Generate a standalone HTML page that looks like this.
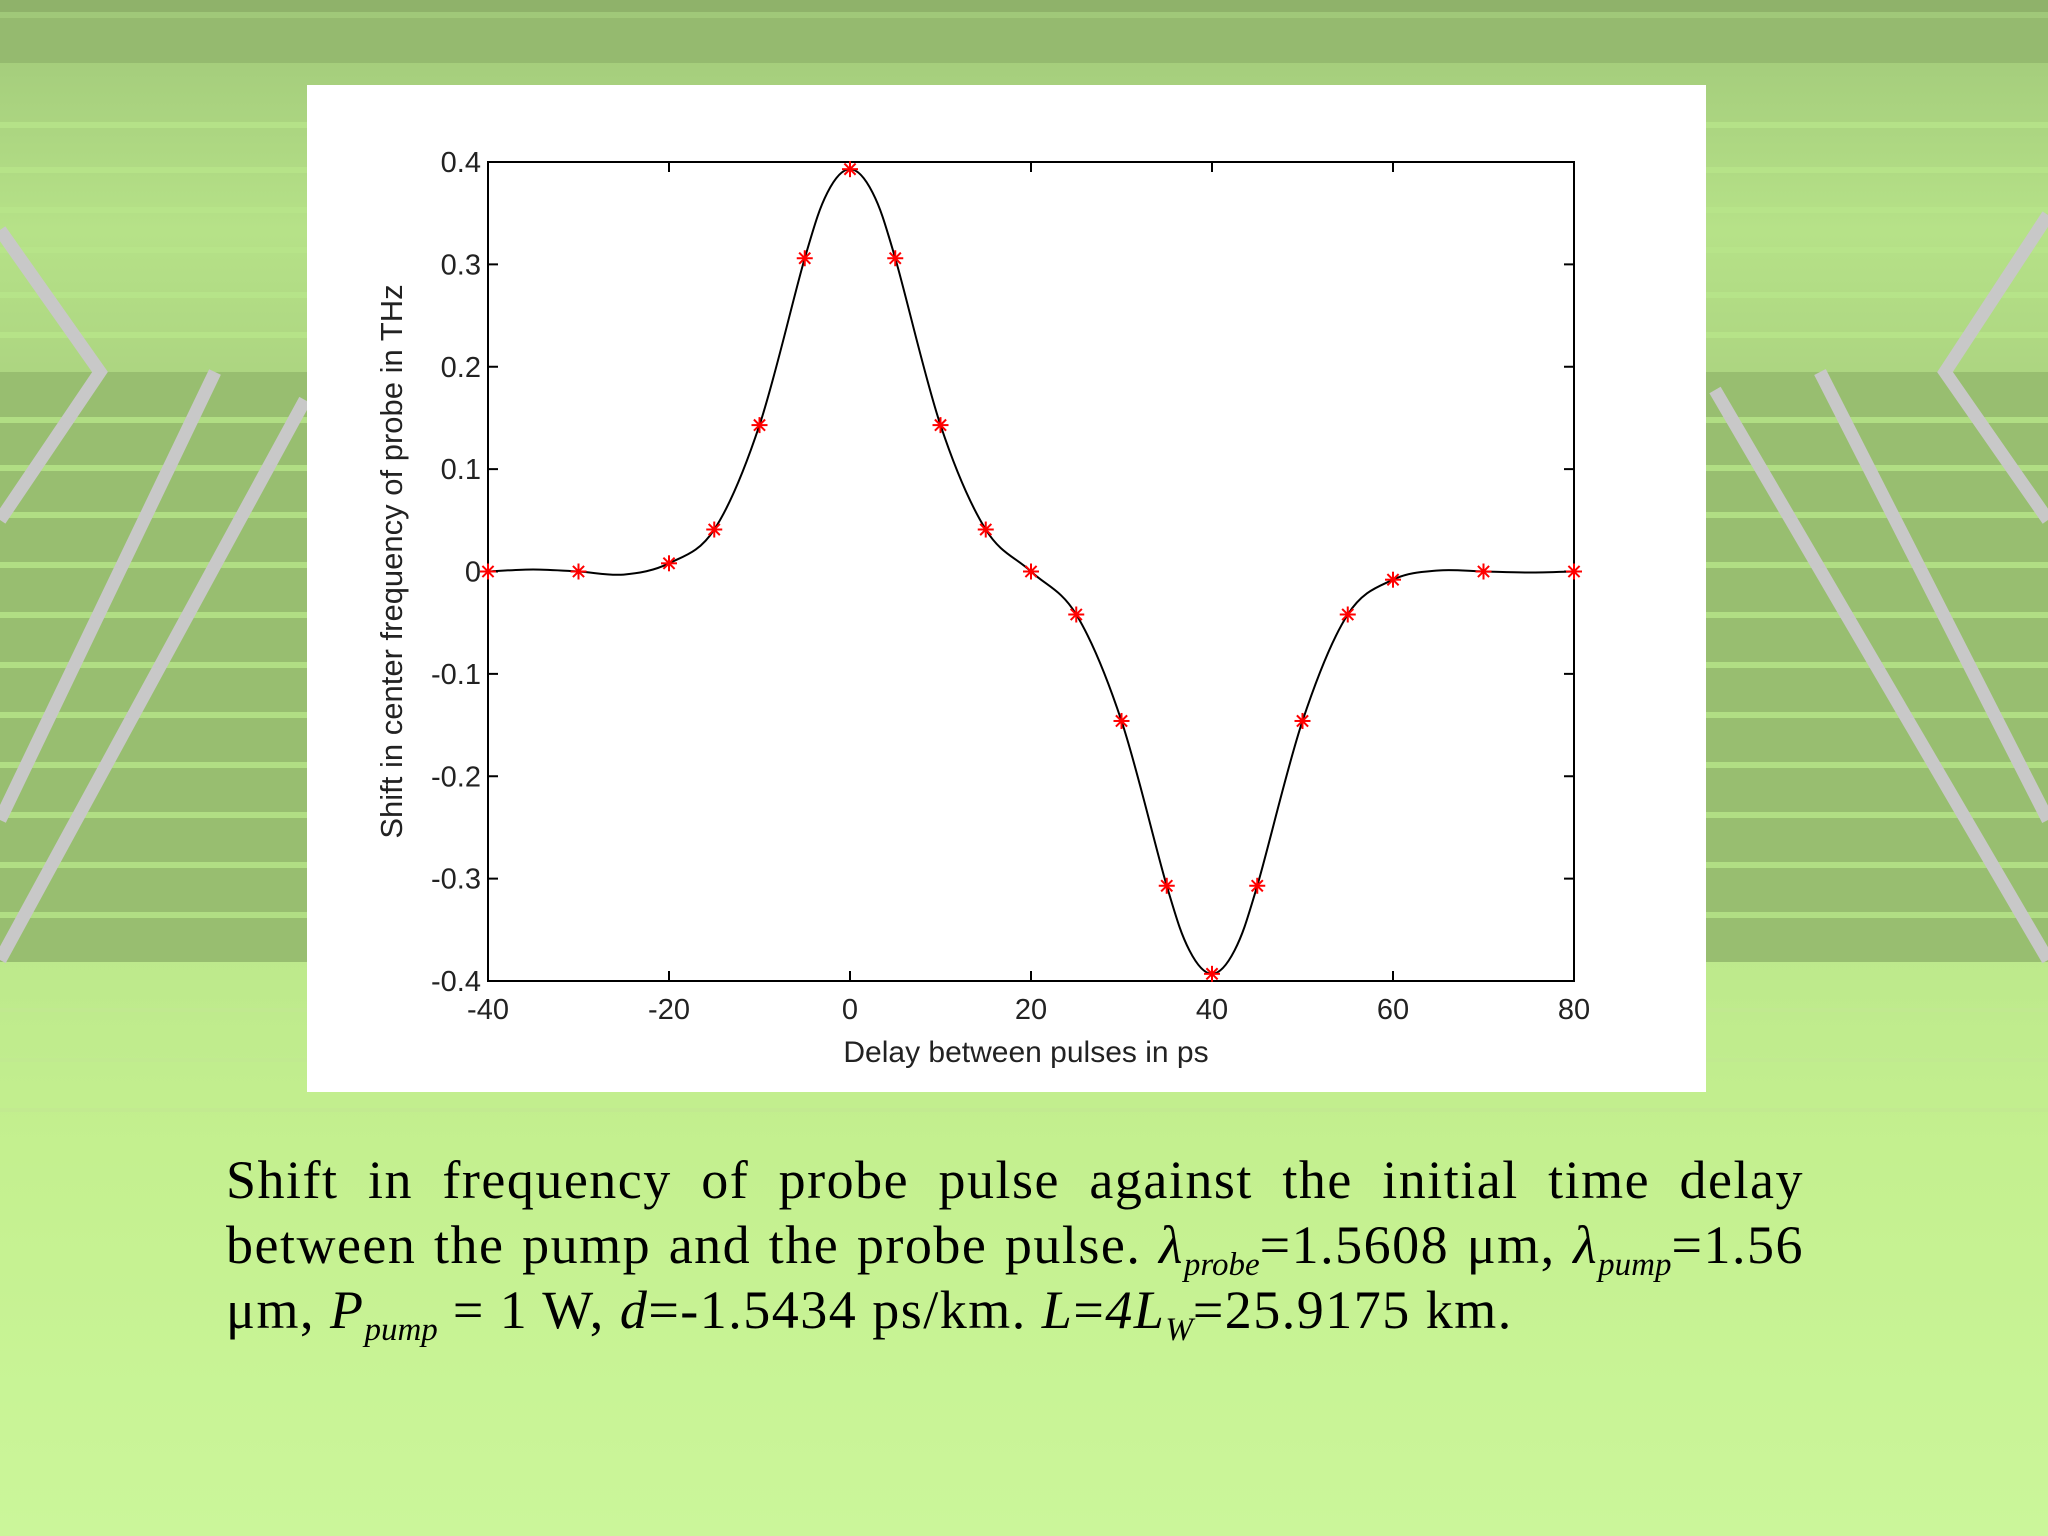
<!DOCTYPE html>
<html><head><meta charset="utf-8">
<style>
html,body{margin:0;padding:0;width:2048px;height:1536px;overflow:hidden;}
body{position:relative;background:linear-gradient(180deg,#9fc678 0%,#b6e288 15%,#a9d07e 28%,#b9e58a 55%,#c4f08f 75%,#cbf69a 100%);font-family:"Liberation Sans",sans-serif;}
#bg{position:absolute;left:0;top:0}
#panel{position:absolute;left:307px;top:85px;width:1399px;height:1007px;background:#fff;}
#caption{position:absolute;left:226px;top:1148px;width:1578px;font-family:"Liberation Serif",serif;font-size:54px;line-height:65px;color:#000;letter-spacing:1.5px;}
#caption div{text-align:justify;text-align-last:justify;white-space:nowrap;}
#caption div.last{text-align-last:left;}
#caption sub{font-size:33px;font-style:italic;vertical-align:-12px;line-height:0;letter-spacing:0}
</style></head><body>
<svg id="bg" width="2048" height="1536">
  <rect x="0" y="0" width="2048" height="12" fill="#8fb26a"/>
  <rect x="0" y="18" width="2048" height="45" fill="#95ba6f"/>
  <rect x="0" y="372" width="2048" height="590" fill="#98be70"/>
  <g stroke="#b8e68a" stroke-width="6" opacity="0.8">
    <line x1="0" y1="125" x2="2048" y2="125"/>
    <line x1="0" y1="170" x2="2048" y2="170"/>
    <line x1="0" y1="210" x2="2048" y2="210"/>
    <line x1="0" y1="250" x2="2048" y2="250"/>
    <line x1="0" y1="295" x2="2048" y2="295"/>
    <line x1="0" y1="335" x2="2048" y2="335"/>
    <line x1="0" y1="420" x2="2048" y2="420"/>
    <line x1="0" y1="468" x2="2048" y2="468"/>
    <line x1="0" y1="515" x2="2048" y2="515"/>
    <line x1="0" y1="565" x2="2048" y2="565"/>
    <line x1="0" y1="615" x2="2048" y2="615"/>
    <line x1="0" y1="665" x2="2048" y2="665"/>
    <line x1="0" y1="715" x2="2048" y2="715"/>
    <line x1="0" y1="765" x2="2048" y2="765"/>
    <line x1="0" y1="815" x2="2048" y2="815"/>
    <line x1="0" y1="865" x2="2048" y2="865"/>
    <line x1="0" y1="915" x2="2048" y2="915"/>
  </g>
  <g stroke="#c2e992" stroke-width="4" opacity="0.7">
    <line x1="0" y1="1010" x2="2048" y2="1010"/>
    <line x1="0" y1="1060" x2="2048" y2="1060"/>
    <line x1="0" y1="1110" x2="2048" y2="1110"/>
  </g>
  <g stroke="#c8c8c8" stroke-width="13" fill="none">
    <polyline points="0,230 100,372 0,520"/>
    <line x1="215" y1="372" x2="0" y2="820"/>
    <line x1="305" y1="400" x2="0" y2="960"/>
    <polyline points="2048,215 1945,372 2048,520"/>
    <line x1="1820" y1="372" x2="2048" y2="820"/>
    <line x1="1715" y1="390" x2="2048" y2="960"/>
  </g>
</svg>
<div id="panel"></div>
<svg id="chart" width="2048" height="1536" style="position:absolute;left:0;top:0"></svg>
<div id="caption">
<div>Shift in frequency of probe pulse against the initial time delay</div>
<div>between the pump and the probe pulse. <i>λ</i><sub>probe</sub>=1.5608 μm, <i>λ</i><sub>pump</sub>=1.56</div>
<div class="last">μm, <i>P</i><sub>pump</sub> = 1 W, <i>d</i>=-1.5434 ps/km. <i>L</i>=<i>4L</i><sub>W</sub>=25.9175 km.</div>
</div>
<script>
const xTicks=[-40,-20,0,20,40,60,80];
const yTicks=[-0.4,-0.3,-0.2,-0.1,0,0.1,0.2,0.3,0.4];
const yTickLabels=["-0.4","-0.3","-0.2","-0.1","0","0.1","0.2","0.3","0.4"];
const markerX=[-40,-30,-20,-15,-10,-5,0,5,10,15,20,25,30,35,40,45,50,55,60,70,80];
const markerY=[0,0,0.008,0.041,0.143,0.306,0.393,0.306,0.143,0.041,0,-0.042,-0.146,-0.307,-0.393,-0.307,-0.146,-0.042,-0.008,0,0];
const curveX=[-40,-35,-30,-25,-20,-15,-10,-5,-2.5,0,2.5,5,10,15,20,25,30,35,37.5,40,42.5,45,50,55,60,65,70,75,80];
const curveY=[0,0.002,0,-0.003,0.008,0.041,0.143,0.306,0.37,0.393,0.37,0.306,0.143,0.041,0,-0.042,-0.146,-0.307,-0.37,-0.393,-0.37,-0.307,-0.146,-0.042,-0.008,0.001,0,-0.001,0];
const L=488,R=1574,T=162,B=981;
const sx=v=>L+(v+40)/120*(R-L);
const sy=v=>B-(v+0.4)/0.8*(B-T);
const svg=document.getElementById('chart');
const NS='http://www.w3.org/2000/svg';
function mk(tag,attrs,parent){const e=document.createElementNS(NS,tag);for(const k in attrs)e.setAttribute(k,attrs[k]);(parent||svg).appendChild(e);return e;}
const frame=mk('rect',{x:L,y:T,width:R-L,height:B-T,fill:'none',stroke:'#000','stroke-width':2});


xTicks.forEach(v=>{
  const x=sx(v);
  const t1=mk('line',{x1:x,y1:B,x2:x,y2:B-10,stroke:'#000','stroke-width':2});
  
  
  const t2=mk('line',{x1:x,y1:T,x2:x,y2:T+10,stroke:'#000','stroke-width':2});
  
  
  const tx=mk('text',{x:x,y:B+38,'text-anchor':'middle','font-size':29,'font-family':'Liberation Sans, sans-serif',fill:'#222'});
  tx.textContent=String(v);
  
  
});
yTicks.forEach((v,i)=>{
  const y=sy(v);
  const t1=mk('line',{x1:L,y1:y,x2:L+10,y2:y,stroke:'#000','stroke-width':2});
  
  
  const t2=mk('line',{x1:R,y1:y,x2:R-10,y2:y,stroke:'#000','stroke-width':2});
  
  
  const tx=mk('text',{x:L-7,y:y+10,'text-anchor':'end','font-size':29,'font-family':'Liberation Sans, sans-serif',fill:'#222'});
  tx.textContent=yTickLabels[i];
  
  
});
const xt=mk('text',{x:(L+R)/2-5,y:B+81,'text-anchor':'middle','font-size':30,'font-family':'Liberation Sans, sans-serif',fill:'#222'});
xt.textContent='Delay between pulses in ps';


const yt=mk('text',{x:0,y:0,'text-anchor':'middle','font-size':31,'font-family':'Liberation Sans, sans-serif',fill:'#222',transform:`translate(402,${(T+B)/2-10}) rotate(-90)`});
yt.textContent='Shift in center frequency of probe in THz';


const pts=curveX.map((x,i)=>[sx(x),sy(curveY[i])]);
let d=`M${pts[0][0]},${pts[0][1]}`;
for(let i=0;i<pts.length-1;i++){
  const p0=pts[Math.max(0,i-1)],p1=pts[i],p2=pts[i+1],p3=pts[Math.min(pts.length-1,i+2)];
  const c1=[p1[0]+(p2[0]-p0[0])/6,p1[1]+(p2[1]-p0[1])/6];
  const c2=[p2[0]-(p3[0]-p1[0])/6,p2[1]-(p3[1]-p1[1])/6];
  d+=` C${c1[0]},${c1[1]} ${c2[0]},${c2[1]} ${p2[0]},${p2[1]}`;
}
const line=mk('path',{d:d,fill:'none',stroke:'#000','stroke-width':2});


markerX.forEach((x,i)=>{
  const cx=sx(x),cy=sy(markerY[i]),r=8;
  const g=mk('g',{stroke:'#ff0000','stroke-width':2});
  
  
  mk('line',{x1:cx-r,y1:cy,x2:cx+r,y2:cy},g);
  mk('line',{x1:cx,y1:cy-r,x2:cx,y2:cy+r},g);
  mk('line',{x1:cx-r*0.7,y1:cy-r*0.7,x2:cx+r*0.7,y2:cy+r*0.7},g);
  mk('line',{x1:cx-r*0.7,y1:cy+r*0.7,x2:cx+r*0.7,y2:cy-r*0.7},g);
});
</script>
</body></html>
